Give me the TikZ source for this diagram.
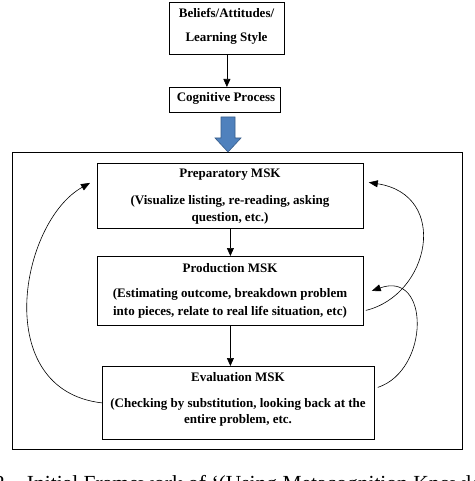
\documentclass[tikz,border=0pt]{standalone}
\usepackage{fontspec}
\setmainfont{Liberation Serif}
\usetikzlibrary{arrows.meta}
\definecolor{arrowblue}{HTML}{4F81BD}
\definecolor{arrowedge}{HTML}{385D8A}
\tikzset{
  box/.style={draw=black, line width=0.8pt, anchor=north west, inner sep=0pt},
  lbl/.style={anchor=base, align=center, inner sep=0pt, font=\bfseries\fontsize{13}{17}\selectfont},
  conn/.style={line width=0.7pt, -{Triangle[length=8pt,width=7pt]}},
  curv/.style={line width=0.6pt, -{Triangle[length=9pt,width=7pt]}},
}
\begin{document}
\begin{tikzpicture}[x=1pt,y=-1pt]
\clip (0,0) rectangle (474,481);
\fill[white] (0,0) rectangle (474,481);
% top boxes
\node[box, minimum width=115pt, minimum height=52pt] (bel) at (169,2) {};
\node[lbl, font=\bfseries\fontsize{13}{24}\selectfont] (beltxt) at (226.5,41.5) {Beliefs/Attitudes/\\Learning Style};
\node[box, minimum width=111pt, minimum height=25pt] (cog) at (169,87) {};
\node[lbl] (cogtxt) at (226,101.5) {Cognitive Process};
\draw[conn] (bel.south) -- (bel.south |- cog.north);
% outer frame
\node[box, minimum width=450pt, minimum height=297pt] (frame) at (12,152) {};
% blue block arrow
\filldraw[fill=arrowblue, draw=arrowedge, line width=0.6pt]
  (221,117) -- (235,117) -- (235,138) -- (241,138) -- (228,152) -- (215,138) -- (221,138) -- cycle;
% inner boxes
\node[box, minimum width=266pt, minimum height=65pt] (prep) at (97,163) {};
\node[lbl] (preptitle) at (230,177.5) {Preparatory MSK};
\node[lbl] (prepbody) at (230,221.5) {(Visualize listing, re-reading, asking\\question, etc.)};
\node[box, minimum width=266pt, minimum height=69pt] (prod) at (97,256) {};
\node[lbl] (prodtitle) at (230,272.5) {Production MSK};
\node[lbl, font=\bfseries\fontsize{13}{18}\selectfont] (prodbody) at (230,315.5) {(Estimating outcome, breakdown problem\\into pieces, relate to real life situation, etc)};
\node[box, minimum width=272pt, minimum height=73pt] (eval) at (102,366) {};
\node[lbl] (evaltitle) at (238,381.5) {Evaluation MSK};
\node[lbl, font=\bfseries\fontsize{13}{15.5}\selectfont] (evalbody) at (238,423) {(Checking by substitution, looking back at the\\entire problem, etc.};
% straight connectors
\draw[conn] (prep.south) -- (prod.north);
\draw[conn] (prod.south) -- (prod.south |- eval.north);
% curved connectors
\draw[curv] (eval.west) .. controls (-10,390) and (20,222) .. ([xshift=-7pt,yshift=13pt]prep.west);
\draw[curv] ([xshift=2pt,yshift=-19.5pt]prod.east) .. controls (430,295) and (450,195) .. ([xshift=5pt,yshift=13.5pt]prep.east);
\draw[curv] ([xshift=3pt,yshift=15.5pt]eval.east) .. controls (430,370) and (430,270) .. ([xshift=8pt]prod.east);
% cropped caption
\node[anchor=base west, inner sep=0pt, font=\fontsize{21.5}{24}\selectfont] (caption) at (-6,490) {2.\hspace{9.5pt} Initial Framework of `(Using Metacognition Knowledge};
\end{tikzpicture}
\end{document}
